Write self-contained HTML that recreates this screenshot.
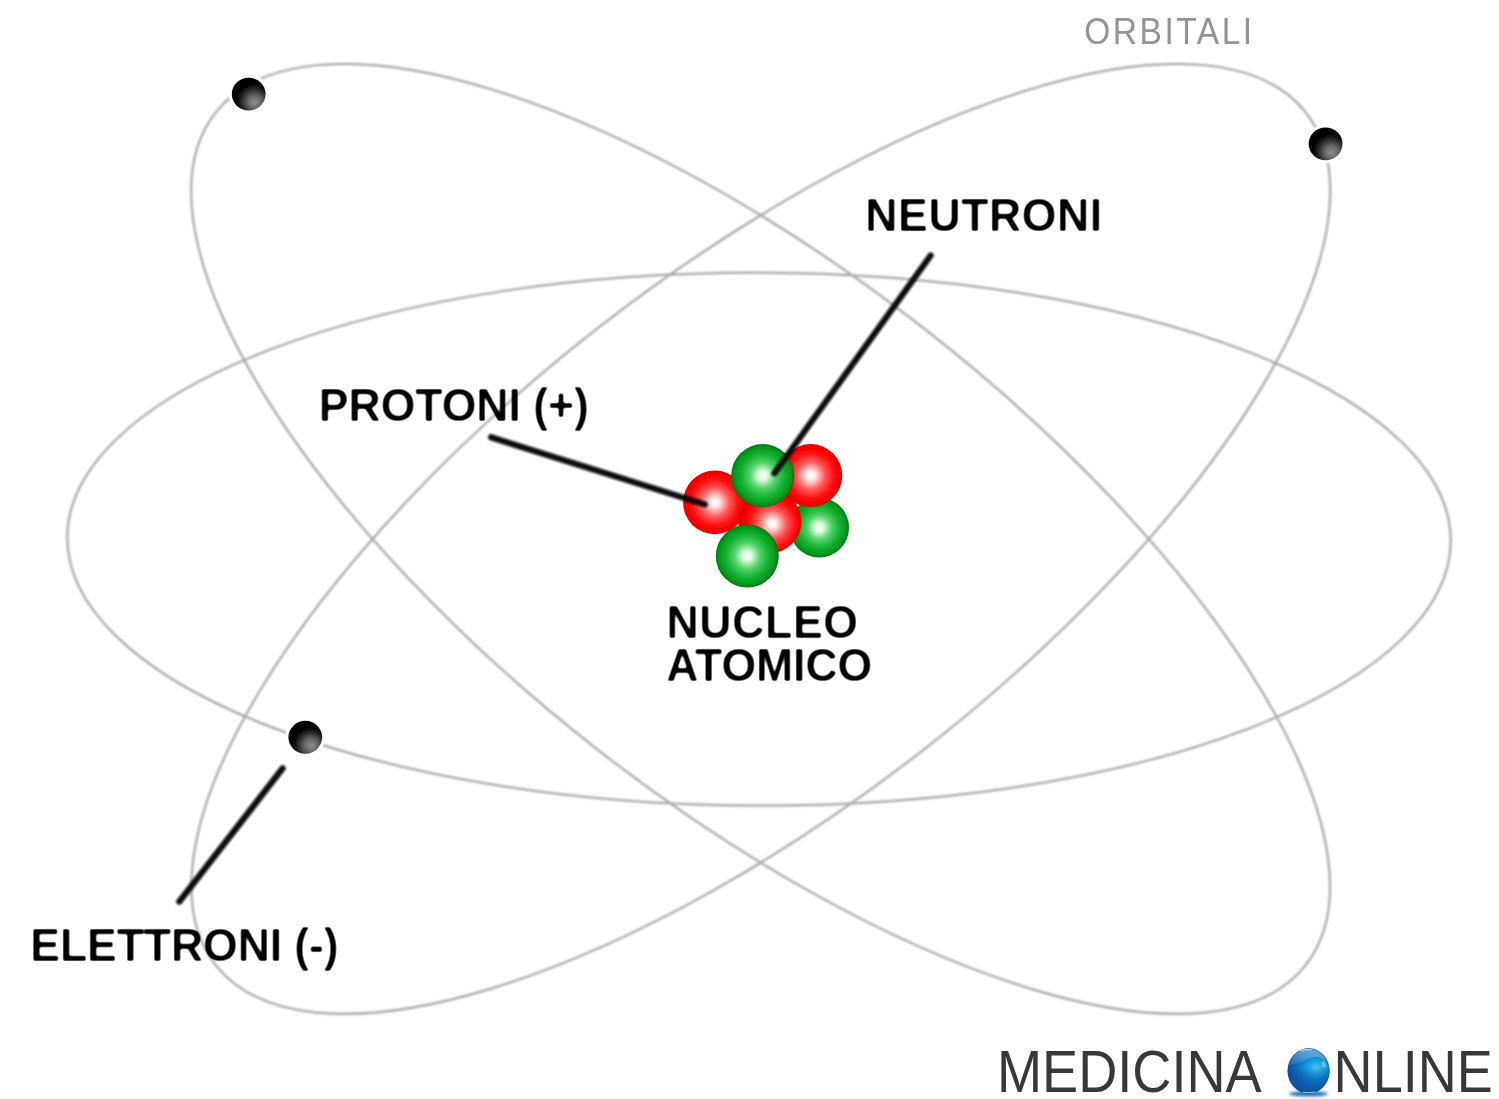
<!DOCTYPE html>
<html lang="it">
<head>
<meta charset="utf-8">
<title>Atomo - Medicina Online</title>
<style>
  html, body { margin: 0; padding: 0; background: #ffffff; }
  body { width: 1499px; height: 1099px; overflow: hidden; }
  svg { display: block; }
  text { font-family: "Liberation Sans", Arial, Helvetica, sans-serif; }
  .lbl { font-weight: 700; fill: #000000; }
  .orb { fill: none; stroke: #a6a6a6; stroke-width: 2.2; }
  .ptr { stroke: #0a0a0a; stroke-width: 6.2; stroke-linecap: round; fill: none; }
</style>
</head>
<body>
<svg width="1499" height="1099" viewBox="0 0 1499 1099">
  <defs>
    <radialGradient id="gRed" cx="50%" cy="50%" r="50%">
      <stop offset="0" stop-color="#ffffff"/>
      <stop offset="0.12" stop-color="#fff0f0"/>
      <stop offset="0.45" stop-color="#ff5a5a"/>
      <stop offset="0.75" stop-color="#ff0a0a"/>
      <stop offset="0.94" stop-color="#f40000"/>
      <stop offset="1" stop-color="#e00000"/>
    </radialGradient>
    <radialGradient id="gRedC" cx="53.5%" cy="53.5%" r="50%">
      <stop offset="0" stop-color="#ffffff"/>
      <stop offset="0.12" stop-color="#fff0f0"/>
      <stop offset="0.45" stop-color="#ff5a5a"/>
      <stop offset="0.75" stop-color="#ff0a0a"/>
      <stop offset="0.94" stop-color="#f40000"/>
      <stop offset="1" stop-color="#e00000"/>
    </radialGradient>
    <radialGradient id="gGreen" cx="50%" cy="50%" r="50%">
      <stop offset="0" stop-color="#ffffff"/>
      <stop offset="0.12" stop-color="#e8ffe8"/>
      <stop offset="0.42" stop-color="#4fd066"/>
      <stop offset="0.7" stop-color="#12b030"/>
      <stop offset="0.9" stop-color="#03981c"/>
      <stop offset="1" stop-color="#007814"/>
    </radialGradient>
    <radialGradient id="gEl" cx="0.66" cy="0.72" r="0.62" fx="0.68" fy="0.76">
      <stop offset="0" stop-color="#8e8e8e"/>
      <stop offset="0.3" stop-color="#6a6a6a"/>
      <stop offset="0.6" stop-color="#2c2c2c"/>
      <stop offset="0.82" stop-color="#050505"/>
      <stop offset="1" stop-color="#000000"/>
    </radialGradient>
    <radialGradient id="gGlobe" cx="0.68" cy="0.44" r="0.62">
      <stop offset="0" stop-color="#4ac6e6"/>
      <stop offset="0.22" stop-color="#22aee4"/>
      <stop offset="0.5" stop-color="#0f8cd6"/>
      <stop offset="0.8" stop-color="#0b68b8"/>
      <stop offset="1" stop-color="#0a58a6"/>
    </radialGradient>
    <linearGradient id="gGlobeDark" x1="0" y1="0" x2="0" y2="1">
      <stop offset="0" stop-color="#0a4a98" stop-opacity="0.25"/>
      <stop offset="0.42" stop-color="#0a4a98" stop-opacity="0"/>
      <stop offset="0.6" stop-color="#0a4a98" stop-opacity="0.35"/>
      <stop offset="1" stop-color="#0a4f9e" stop-opacity="0.75"/>
    </linearGradient>
    <linearGradient id="gGloss" x1="0" y1="0" x2="0" y2="1">
      <stop offset="0" stop-color="#ffffff" stop-opacity="0.4"/>
      <stop offset="1" stop-color="#ffffff" stop-opacity="0.1"/>
    </linearGradient>
    <filter id="gsoft" filterUnits="userSpaceOnUse" x="0" y="0" width="1499" height="1099">
      <feGaussianBlur stdDeviation="0.35"/>
    </filter>
    <filter id="blur2" x="-20%" y="-100%" width="140%" height="300%">
      <feGaussianBlur stdDeviation="1.6"/>
    </filter>
    <filter id="tsoft" filterUnits="userSpaceOnUse" x="0" y="0" width="1499" height="1099">
      <feGaussianBlur stdDeviation="1.1"/>
      <feComponentTransfer>
        <feFuncA type="linear" slope="1.9" intercept="-0.58"/>
      </feComponentTransfer>
    </filter>
    <filter id="osoft" filterUnits="userSpaceOnUse" x="0" y="0" width="1499" height="1099">
      <feGaussianBlur stdDeviation="0.9"/>
    </filter>
    <filter id="psoft" filterUnits="userSpaceOnUse" x="0" y="0" width="1499" height="1099">
      <feGaussianBlur stdDeviation="0.9"/>
    </filter>
    <filter id="soft" x="-10%" y="-10%" width="120%" height="120%">
      <feGaussianBlur stdDeviation="0.6"/>
    </filter>
  </defs>

  <rect x="0" y="0" width="1499" height="1099" fill="#ffffff"/>

  <!-- orbitals -->
  <g filter="url(#osoft)">
  <ellipse class="orb" cx="759" cy="539.2" rx="691.7" ry="266.5" transform="rotate(0.15 759 539.2)"/>
  <ellipse class="orb" cx="760.6" cy="538.9" rx="692" ry="266.4" transform="rotate(38 760.6 538.9)"/>
  <ellipse class="orb" cx="760.8" cy="538.9" rx="692" ry="266.4" transform="rotate(-38 760.8 538.9)"/>
  </g>

  <!-- electrons -->
  <g filter="url(#soft)">
    <ellipse cx="248.7" cy="94.1" rx="20" ry="19.5" fill="#ffffff"/>
    <ellipse cx="1325.6" cy="143.9" rx="20" ry="19.5" fill="#ffffff"/>
    <ellipse cx="305.2" cy="737.2" rx="20" ry="19.5" fill="#ffffff"/>
    <ellipse cx="248.7" cy="94.1" rx="16.9" ry="16.3" fill="url(#gEl)"/>
    <ellipse cx="1325.6" cy="143.9" rx="16.9" ry="16.4" fill="url(#gEl)"/>
    <ellipse cx="305.3" cy="737.3" rx="16.9" ry="16.5" fill="url(#gEl)"/>
  </g>

  <!-- nucleus -->
  <g filter="url(#soft)">
    <circle cx="819.3" cy="527.6" r="29.8" fill="url(#gGreen)"/>
    <circle cx="810.8" cy="475.6" r="31.5" fill="url(#gRed)"/>
    <circle cx="714.9" cy="502.4" r="31.8" fill="url(#gRed)"/>
    <circle cx="770" cy="521.6" r="31.5" fill="url(#gRedC)"/>
    <circle cx="762.8" cy="475.6" r="31.6" fill="url(#gGreen)"/>
    <circle cx="747.3" cy="556.1" r="31.5" fill="url(#gGreen)"/>
  </g>

  <!-- pointer lines -->
  <g filter="url(#psoft)">
  <line class="ptr" x1="491.1" y1="437.3" x2="704.8" y2="504.4"/>
  <line class="ptr" x1="930.6" y1="255.5" x2="774.5" y2="473.2"/>
  <line class="ptr" x1="282.6" y1="768.4" x2="179.3" y2="901.6"/>
  </g>

  <!-- labels -->
  <g filter="url(#gsoft)">
  <text transform="translate(1084.2 43.7) scale(0.92 1)" font-size="36.5" fill="#949494" textLength="182.6" lengthAdjust="spacing">ORBITALI</text>
  </g>
  <g filter="url(#tsoft)">
  <text class="lbl" transform="translate(865.3 230.8) scale(0.98 1)" font-size="45.5" textLength="241.8" lengthAdjust="spacing">NEUTRONI</text>
  <text class="lbl" transform="translate(318.8 420.8) scale(0.98 1)" font-size="45.5" textLength="275.5" lengthAdjust="spacing">PROTONI (+)</text>
  <text class="lbl" transform="translate(666.4 637.6) scale(0.98 1)" font-size="45.5" textLength="195.5" lengthAdjust="spacing">NUCLEO</text>
  <text class="lbl" transform="translate(666.2 680.9) scale(0.98 1)" font-size="45.5" textLength="210.2" lengthAdjust="spacing">ATOMICO</text>
  <text class="lbl" transform="translate(30.3 961.4) scale(0.98 1)" font-size="45.5" textLength="314.7" lengthAdjust="spacing">ELETTRONI (-)</text>
  </g>

  <!-- logo -->
  <g filter="url(#gsoft)">
  <text x="997" y="1092" font-size="60" fill="#383838" textLength="264.6" lengthAdjust="spacingAndGlyphs">MEDICINA</text>
  <text x="1333.6" y="1092" font-size="60" fill="#383838" textLength="159.2" lengthAdjust="spacingAndGlyphs">NLINE</text>
  </g>
  <ellipse cx="1308.6" cy="1093.8" rx="19.5" ry="2.7" fill="#1672c6" filter="url(#blur2)"/>
  <g filter="url(#gsoft)">
    <ellipse cx="1308.6" cy="1070.8" rx="21" ry="22.6" fill="url(#gGlobe)"/>
    <ellipse cx="1308.6" cy="1070.8" rx="21" ry="22.6" fill="url(#gGlobeDark)"/>
    <path d="M1288.4 1064.5 C1289.5 1054 1298 1048.6 1308.6 1048.6 C1318.5 1048.6 1326.5 1054.5 1328.6 1063.5 C1323.5 1056.5 1315 1055 1308 1058.5 C1301.5 1061.8 1294.5 1065.5 1288.4 1064.5 Z" fill="url(#gGloss)"/>
    <ellipse cx="1308.6" cy="1070.8" rx="20.6" ry="22.2" fill="none" stroke="#0a4488" stroke-opacity="0.55" stroke-width="0.9"/>
    <path d="M1321.2 1062.2 L1324.6 1060.6 L1326.6 1066.2 L1323.2 1068 Z" fill="#ffffff" fill-opacity="0.32"/>
    <path d="M1300.5 1050.6 Q1305 1049 1311 1049.6" stroke="#ffffff" stroke-opacity="0.75" stroke-width="1" fill="none" stroke-linecap="round"/>
    <path d="M1303 1092.2 Q1309 1093.6 1315 1092" stroke="#ffffff" stroke-opacity="0.65" stroke-width="1" fill="none" stroke-linecap="round"/>
  </g>
</svg>
</body>
</html>
